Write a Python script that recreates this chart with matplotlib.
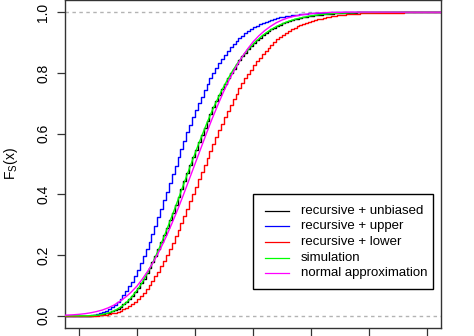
import numpy as np
import matplotlib
matplotlib.use("Agg")
import matplotlib.pyplot as plt
from matplotlib.patches import Rectangle

plt.rcParams['font.family'] = ['Liberation Sans', 'DejaVu Sans']
plt.rcParams['mathtext.fontset'] = 'custom'
plt.rcParams['mathtext.rm'] = 'Liberation Sans'
plt.rcParams['mathtext.it'] = 'Liberation Sans'

# ---- data (CDF values x1000 at knots 0, 0.5, ..., 50) ----
knots = np.arange(0, 50.01, 0.5)
cdf_unbiased = [0,0,0,1,1,2,3,4,6,8,11,15,19,24,30,38,46,56,67,79,92,107,122,140,158,177,198,220,242,266,290,315,340,366,392,418,444,470,496,522,547,572,596,620,643,665,687,708,727,746,765,782,798,814,828,842,855,867,878,889,898,908,916,924,931,937,944,949,954,959,963,967,970,973,976,979,981,983,985,987,988,990,991,992,993,994,995,995,996,996,997,997,998,998,998,998,999,999,999,999,999]
cdf_upper = [0,0,1,1,2,4,6,8,12,16,21,28,36,45,55,68,81,97,113,132,152,173,196,219,244,270,297,324,352,381,409,438,467,495,523,550,577,604,629,654,678,701,722,743,763,782,799,816,832,846,860,872,884,895,905,914,923,930,938,944,950,955,960,964,968,972,975,978,981,983,985,987,988,990,991,992,993,994,995,996,996,997,997,997,998,998,998,999,999,999,999,999,999,999,1000,1000,1000,1000,1000,1000,1000]
cdf_lower = [0,0,0,0,1,1,1,2,3,4,6,8,11,14,17,22,27,33,39,47,56,66,76,88,101,115,130,146,163,181,200,220,241,262,284,307,330,353,377,401,425,449,473,497,521,544,567,590,612,633,654,675,694,713,732,749,766,782,797,811,825,838,850,862,873,883,893,901,910,917,925,931,937,943,948,953,957,962,965,969,972,975,977,979,982,984,985,987,988,990,991,992,993,993,994,995,995,996,996,997,997]
cdf_simulation = [0,0,0,0,1,1,2,3,5,7,9,12,16,21,27,33,41,50,60,72,84,98,113,130,148,167,187,208,230,253,277,302,327,352,378,404,431,457,483,509,534,560,584,608,632,655,677,698,718,738,756,774,791,807,822,836,849,862,873,884,894,904,912,921,928,935,941,947,952,957,961,965,969,972,975,978,980,982,984,986,988,989,990,992,993,993,994,995,996,996,997,997,997,998,998,998,999,999,999,999,999]
normal_x = np.arange(-3, 51, 1.0)
cdf_normal = [1.5,2.5,3.5,5,7,10,14,19,26,35,47,61,78,98,123,151,183,219,259,303,349,398,449,500,551,602,651,697,741,781,817,849,877,902,922,939,953,965,974,981,986,990,993,995,997,998,999,999,999,1000,1000,1000,1000,1000]

labels = ["recursive + unbiased", "recursive + upper", "recursive + lower",
          "simulation", "normal approximation"]
colors = ["black", "blue", "red", "#00FF00", "magenta"]
xticks = [0, 10, 20, 30, 40, 50, 60]
yticks = [0.0, 0.2, 0.4, 0.6, 0.8, 1.0]

W, H = 474, 336
fig = plt.figure(figsize=(W/100, H/100), dpi=100)
ax = fig.add_axes([65/W, 8/H, 376/W, 328/H])
ax.set_xlim(-2.4, 62.4)
ax.set_ylim(-0.04, 1.04)

XR = 70.0
def stairs(vals, color, z):
    xs = np.r_[-5.0, knots, 56.0, XR]
    ys = np.r_[0.0, np.asarray(vals)/1000.0, 1.0, 1.0]
    ax.step(xs, ys, where='post', color=color, lw=1.0, zorder=z)

stairs(cdf_unbiased, colors[0], 2)
for yv in (0.0, 1.0):
    ax.axhline(yv, color='#b3b3b3', lw=1.0, ls=(0, (2.5, 2.5)), zorder=2.5)
stairs(cdf_upper, colors[1], 3)
stairs(cdf_lower, colors[2], 3)
sx = np.r_[-5.0, knots, 56.0, XR]
sy = np.r_[0.0, np.asarray(cdf_simulation)/1000.0, 1.0, 1.0]
ax.plot(sx, sy, color=colors[3], lw=1.0, zorder=4)
nx = np.r_[normal_x, XR]
ny = np.r_[np.asarray(cdf_normal)/1000.0, 1.0]
ax.plot(nx, ny, color=colors[4], lw=1.0, zorder=5)

# legend (R style)
lx0, ly0, lx1, ly1 = 30.0, 0.402, 61.0, 0.089
ax.add_patch(Rectangle((lx0, ly1), lx1-lx0, ly0-ly1, fill=False,
                       edgecolor='black', lw=1.0, zorder=6))
for i, (lab, col) in enumerate(zip(labels, colors)):
    yy = 0.346 - i*0.0514
    ax.plot([32.1, 36.2], [yy, yy], color=col, lw=0.9, zorder=7)
    ax.text(38.2, yy, lab, fontsize=9.5, va='center', ha='left', zorder=7)

ax.set_xticks(xticks)
ax.set_xticklabels([])
ax.set_yticks(yticks)
ax.set_yticklabels([f"{v:.1f}" for v in yticks])
ax.tick_params(axis='both', length=5.8, width=0.9, color='#333333', labelsize=10)
ax.tick_params(axis='y', labelrotation=90, pad=5)
for lab in ax.get_yticklabels():
    lab.set_va('center')
for s in ax.spines.values():
    s.set_color('#333333')
    s.set_linewidth(1.0)

ax.set_ylabel(r'$\mathrm{F_S(x)}$', fontsize=10, va='center')
ax.yaxis.set_label_coords((11-65)/376, 0.5)

fig.savefig("out.png", dpi=100)
